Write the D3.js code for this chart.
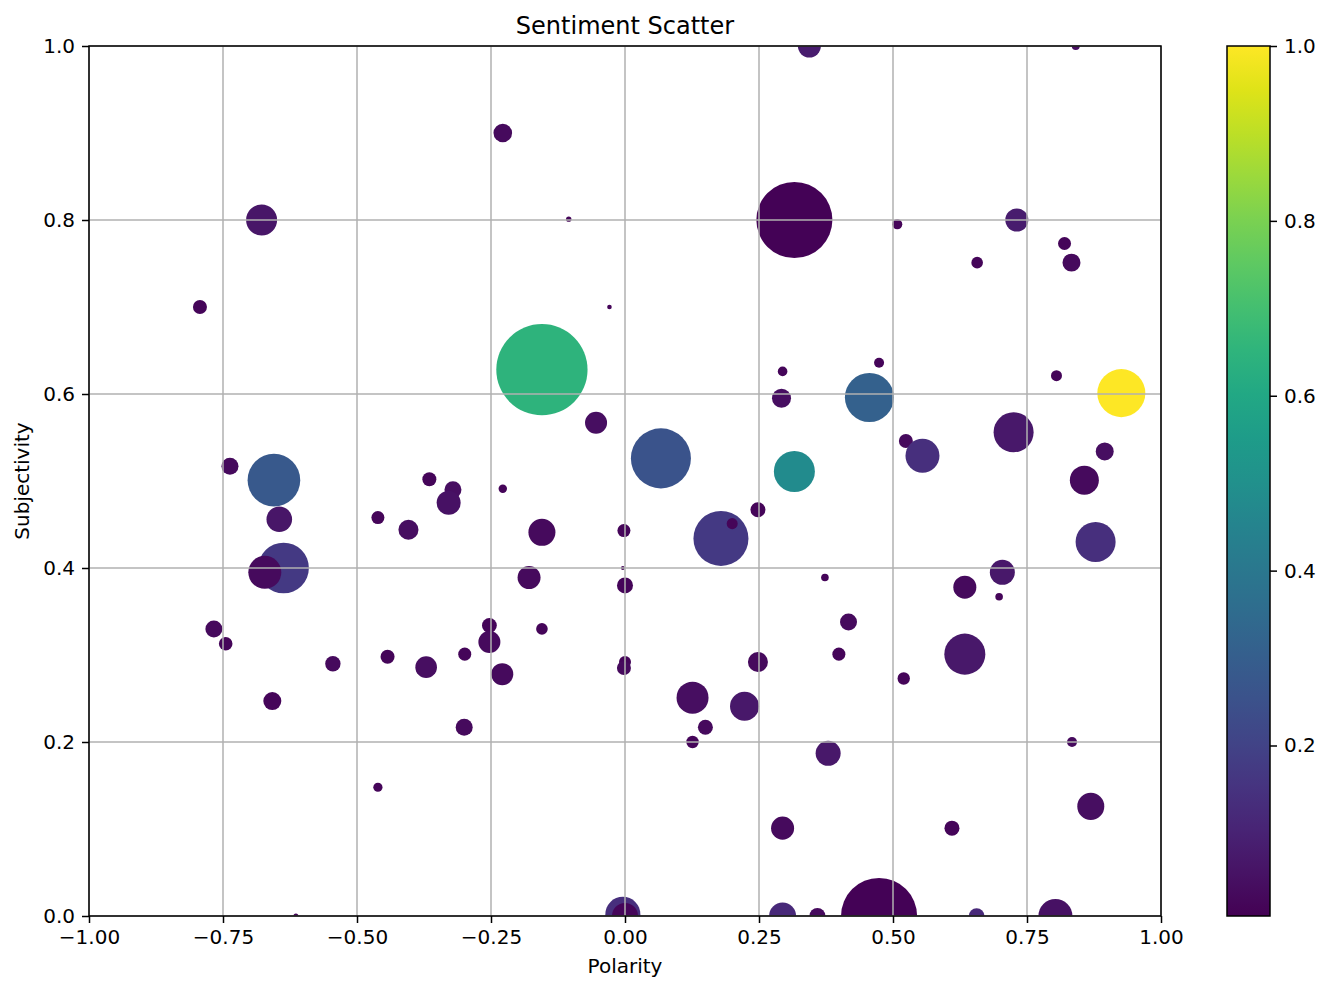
<!DOCTYPE html>
<html>
<head>
<meta charset="utf-8">
<script src="https://cdn.jsdelivr.net/npm/d3@7"></script>
<style>
  body { margin: 0; background: white; }
  text { font-family: "DejaVu Sans", sans-serif; }
</style>
</head>
<body>
<svg id="chart" width="1330" height="992"></svg>
<script>
// values
const polarity = [
  -0.228, -0.678, -0.105, -0.793, -0.029, -0.155, -0.054, -0.737, -0.655, -0.645,
  -0.637, -0.672, -0.767, -0.745, -0.545, -0.658, -0.461, -0.404, -0.365, -0.321,
  -0.329, -0.228, -0.155, -0.002, -0.179, 0.000, -0.253, -0.253, -0.155, -0.443,
  -0.371, -0.299, -0.229, 0.000, -0.002, -0.300, -0.461, -0.614, -0.004, 0.000,
  -0.004, 0.344, 0.841, 0.316, 0.508, 0.731, 0.820, 0.833, 0.657, 0.294,
  0.474, 0.292, 0.456, 0.805, 0.926, 0.067, 0.316, 0.524, 0.555, 0.725,
  0.895, 0.857, 0.179, 0.200, 0.248, 0.373, 0.417, 0.399, 0.520, 0.634,
  0.704, 0.698, 0.634, 0.878, 0.834, 0.869, 0.126, 0.223, 0.150, 0.126,
  0.248, 0.379, 0.294, 0.610, 0.294, 0.359, 0.474, 0.656, 0.803
];
const subjectivity = [
  0.900, 0.800, 0.801, 0.700, 0.700, 0.628, 0.567, 0.517, 0.501, 0.456,
  0.400, 0.395, 0.330, 0.313, 0.290, 0.247, 0.458, 0.444, 0.502, 0.490,
  0.475, 0.491, 0.441, 0.443, 0.389, 0.380, 0.334, 0.315, 0.330, 0.298,
  0.286, 0.301, 0.278, 0.292, 0.285, 0.217, 0.148, 0.000, 0.002, 0.000,
  0.400, 1.000, 1.000, 0.800, 0.795, 0.800, 0.773, 0.751, 0.751, 0.626,
  0.636, 0.595, 0.596, 0.621, 0.601, 0.526, 0.511, 0.546, 0.529, 0.556,
  0.534, 0.501, 0.434, 0.451, 0.467, 0.389, 0.338, 0.301, 0.273, 0.378,
  0.395, 0.367, 0.301, 0.430, 0.200, 0.126, 0.251, 0.241, 0.217, 0.200,
  0.292, 0.187, 0.101, 0.101, 0.000, 0.000, 0.000, 0.000, 0.000
];
// marker areas (matplotlib "s")
const sizes = [
  180, 500, 15, 102, 11, 4325, 252, 150, 1439, 341,
  1331, 566, 150, 96, 123, 168, 88, 208, 102, 150,
  300, 37, 379, 88, 275, 133, 114, 252, 70, 102,
  243, 88, 252, 75, 102, 150, 44, 13, 637, 352,
  8, 275, 33, 3004, 52, 275, 88, 168, 70, 48,
  52, 188, 1249, 63, 1198, 1872, 874, 102, 601, 832,
  168, 437, 1573, 63, 117, 30, 150, 88, 80, 275,
  325, 30, 874, 832, 52, 379, 532, 437, 117, 80,
  208, 325, 275, 117, 379, 133, 3004, 127, 601
];
// colour values
const colorValues = [
  0.03, 0.06, 0.02, 0.02, 0.02, 0.65, 0.04, 0.03, 0.28, 0.06,
  0.17, 0.03, 0.03, 0.02, 0.03, 0.02, 0.02, 0.04, 0.02, 0.04,
  0.05, 0.02, 0.03, 0.02, 0.03, 0.02, 0.02, 0.03, 0.02, 0.02,
  0.04, 0.02, 0.03, 0.02, 0.03, 0.03, 0.02, 0.02, 0.14, 0.02,
  0.02, 0.08, 0.04, 0.01, 0.02, 0.08, 0.02, 0.03, 0.02, 0.02,
  0.02, 0.04, 0.31, 0.02, 1.00, 0.26, 0.48, 0.03, 0.14, 0.07,
  0.04, 0.03, 0.17, 0.02, 0.02, 0.02, 0.03, 0.02, 0.02, 0.03,
  0.07, 0.02, 0.07, 0.14, 0.03, 0.04, 0.04, 0.07, 0.03, 0.02,
  0.03, 0.07, 0.03, 0.02, 0.12, 0.03, 0.01, 0.12, 0.05
];
const xTicks = [-1, -0.75, -0.5, -0.25, 0, 0.25, 0.5, 0.75, 1];
const yTicks = [0, 0.2, 0.4, 0.6, 0.8, 1.0];
const cbarTicks = [0.2, 0.4, 0.6, 0.8, 1.0];

const data = polarity.map((p, i) => ({
  x: p, y: subjectivity[i], s: sizes[i], c: colorValues[i]
}));

const svg = d3.select("#chart");
const margin = { top: 46, left: 89 };
const plotWidth = 1072;
const plotHeight = 870;
const fontSize = 20;
const tickLen = 7;
const lineW = 1.5;

const x = d3.scaleLinear([-1, 1], [0, plotWidth]);
const y = d3.scaleLinear([0, 1], [plotHeight, 0]);
const r = d3.scaleSqrt([0, 3000], [0, 38]);
const cMin = 0.005, cMax = 1.0;
const color = d3.scaleSequential(d3.interpolateViridis).domain([cMin, cMax]);

svg.append("text")
  .attr("x", margin.left + plotWidth / 2)
  .attr("y", 34)
  .attr("text-anchor", "middle")
  .attr("font-size", 24)
  .text("Sentiment Scatter");

const plotArea = svg.append("g")
  .attr("transform", `translate(${margin.left}, ${margin.top})`);

plotArea.append("clipPath").attr("id", "clip")
  .append("rect").attr("width", plotWidth).attr("height", plotHeight);

plotArea.append("g")
  .attr("clip-path", "url(#clip)")
  .selectAll("circle")
  .data(data)
  .join("circle")
  .attr("cx", (d) => x(d.x))
  .attr("cy", (d) => y(d.y))
  .attr("r", (d) => r(d.s))
  .attr("fill", (d) => color(d.c));

// grid sits above the markers
const grid = plotArea.append("g")
  .attr("stroke", "#b0b0b0")
  .attr("stroke-width", lineW);
grid.selectAll("line.v")
  .data(xTicks)
  .join("line")
  .attr("class", "v")
  .attr("x1", (d) => x(d)).attr("x2", (d) => x(d))
  .attr("y1", 0).attr("y2", plotHeight);
grid.selectAll("line.h")
  .data(yTicks)
  .join("line")
  .attr("class", "h")
  .attr("x1", 0).attr("x2", plotWidth)
  .attr("y1", (d) => y(d)).attr("y2", (d) => y(d));

const xAxis = d3.axisBottom(x).tickValues(xTicks).tickFormat(d3.format(".2f"))
  .tickSize(tickLen).tickPadding(tickLen).tickSizeOuter(0);
const yAxis = d3.axisLeft(y).tickValues(yTicks).tickFormat(d3.format(".1f"))
  .tickSize(tickLen).tickPadding(tickLen).tickSizeOuter(0);

const gx = plotArea.append("g")
  .attr("transform", `translate(0, ${plotHeight})`)
  .call(xAxis);
const gy = plotArea.append("g").call(yAxis);
[gx, gy].forEach((g) => {
  g.select(".domain").remove();
  g.selectAll("line").attr("stroke", "black").attr("stroke-width", lineW);
  g.selectAll("text").attr("font-size", fontSize).attr("fill", "black")
    .attr("font-family", "DejaVu Sans, sans-serif");
});

plotArea.append("rect")
  .attr("width", plotWidth)
  .attr("height", plotHeight)
  .attr("fill", "none")
  .attr("stroke", "black")
  .attr("stroke-width", lineW);

svg.append("text")
  .attr("x", margin.left + plotWidth / 2)
  .attr("y", 973)
  .attr("text-anchor", "middle")
  .attr("font-size", fontSize)
  .text("Polarity");

svg.append("text")
  .attr("transform", `translate(29, ${margin.top + plotHeight / 2}) rotate(-90)`)
  .attr("text-anchor", "middle")
  .attr("font-size", fontSize)
  .text("Subjectivity");

// colorbar
const cbar = { left: 1227, width: 43 };
const cy = d3.scaleLinear([cMin, cMax], [plotHeight, 0]);
const defs = svg.append("defs");
const grad = defs.append("linearGradient")
  .attr("id", "viridis")
  .attr("x1", 0).attr("y1", 1).attr("x2", 0).attr("y2", 0);
grad.selectAll("stop")
  .data(d3.range(0, 1.0001, 0.05))
  .join("stop")
  .attr("offset", (t) => t)
  .attr("stop-color", (t) => d3.interpolateViridis(t));

const cbarG = svg.append("g")
  .attr("transform", `translate(${cbar.left}, ${margin.top})`);
cbarG.append("rect")
  .attr("width", cbar.width)
  .attr("height", plotHeight)
  .attr("fill", "url(#viridis)")
  .attr("stroke", "black")
  .attr("stroke-width", lineW);

const cAxis = d3.axisRight(cy).tickValues(cbarTicks).tickFormat(d3.format(".1f"))
  .tickSize(tickLen).tickPadding(tickLen).tickSizeOuter(0);
const gc = cbarG.append("g")
  .attr("transform", `translate(${cbar.width}, 0)`)
  .call(cAxis);
gc.select(".domain").remove();
gc.selectAll("line").attr("stroke", "black").attr("stroke-width", lineW);
gc.selectAll("text").attr("font-size", fontSize).attr("fill", "black")
  .attr("font-family", "DejaVu Sans, sans-serif");
</script>
</body>
</html>
